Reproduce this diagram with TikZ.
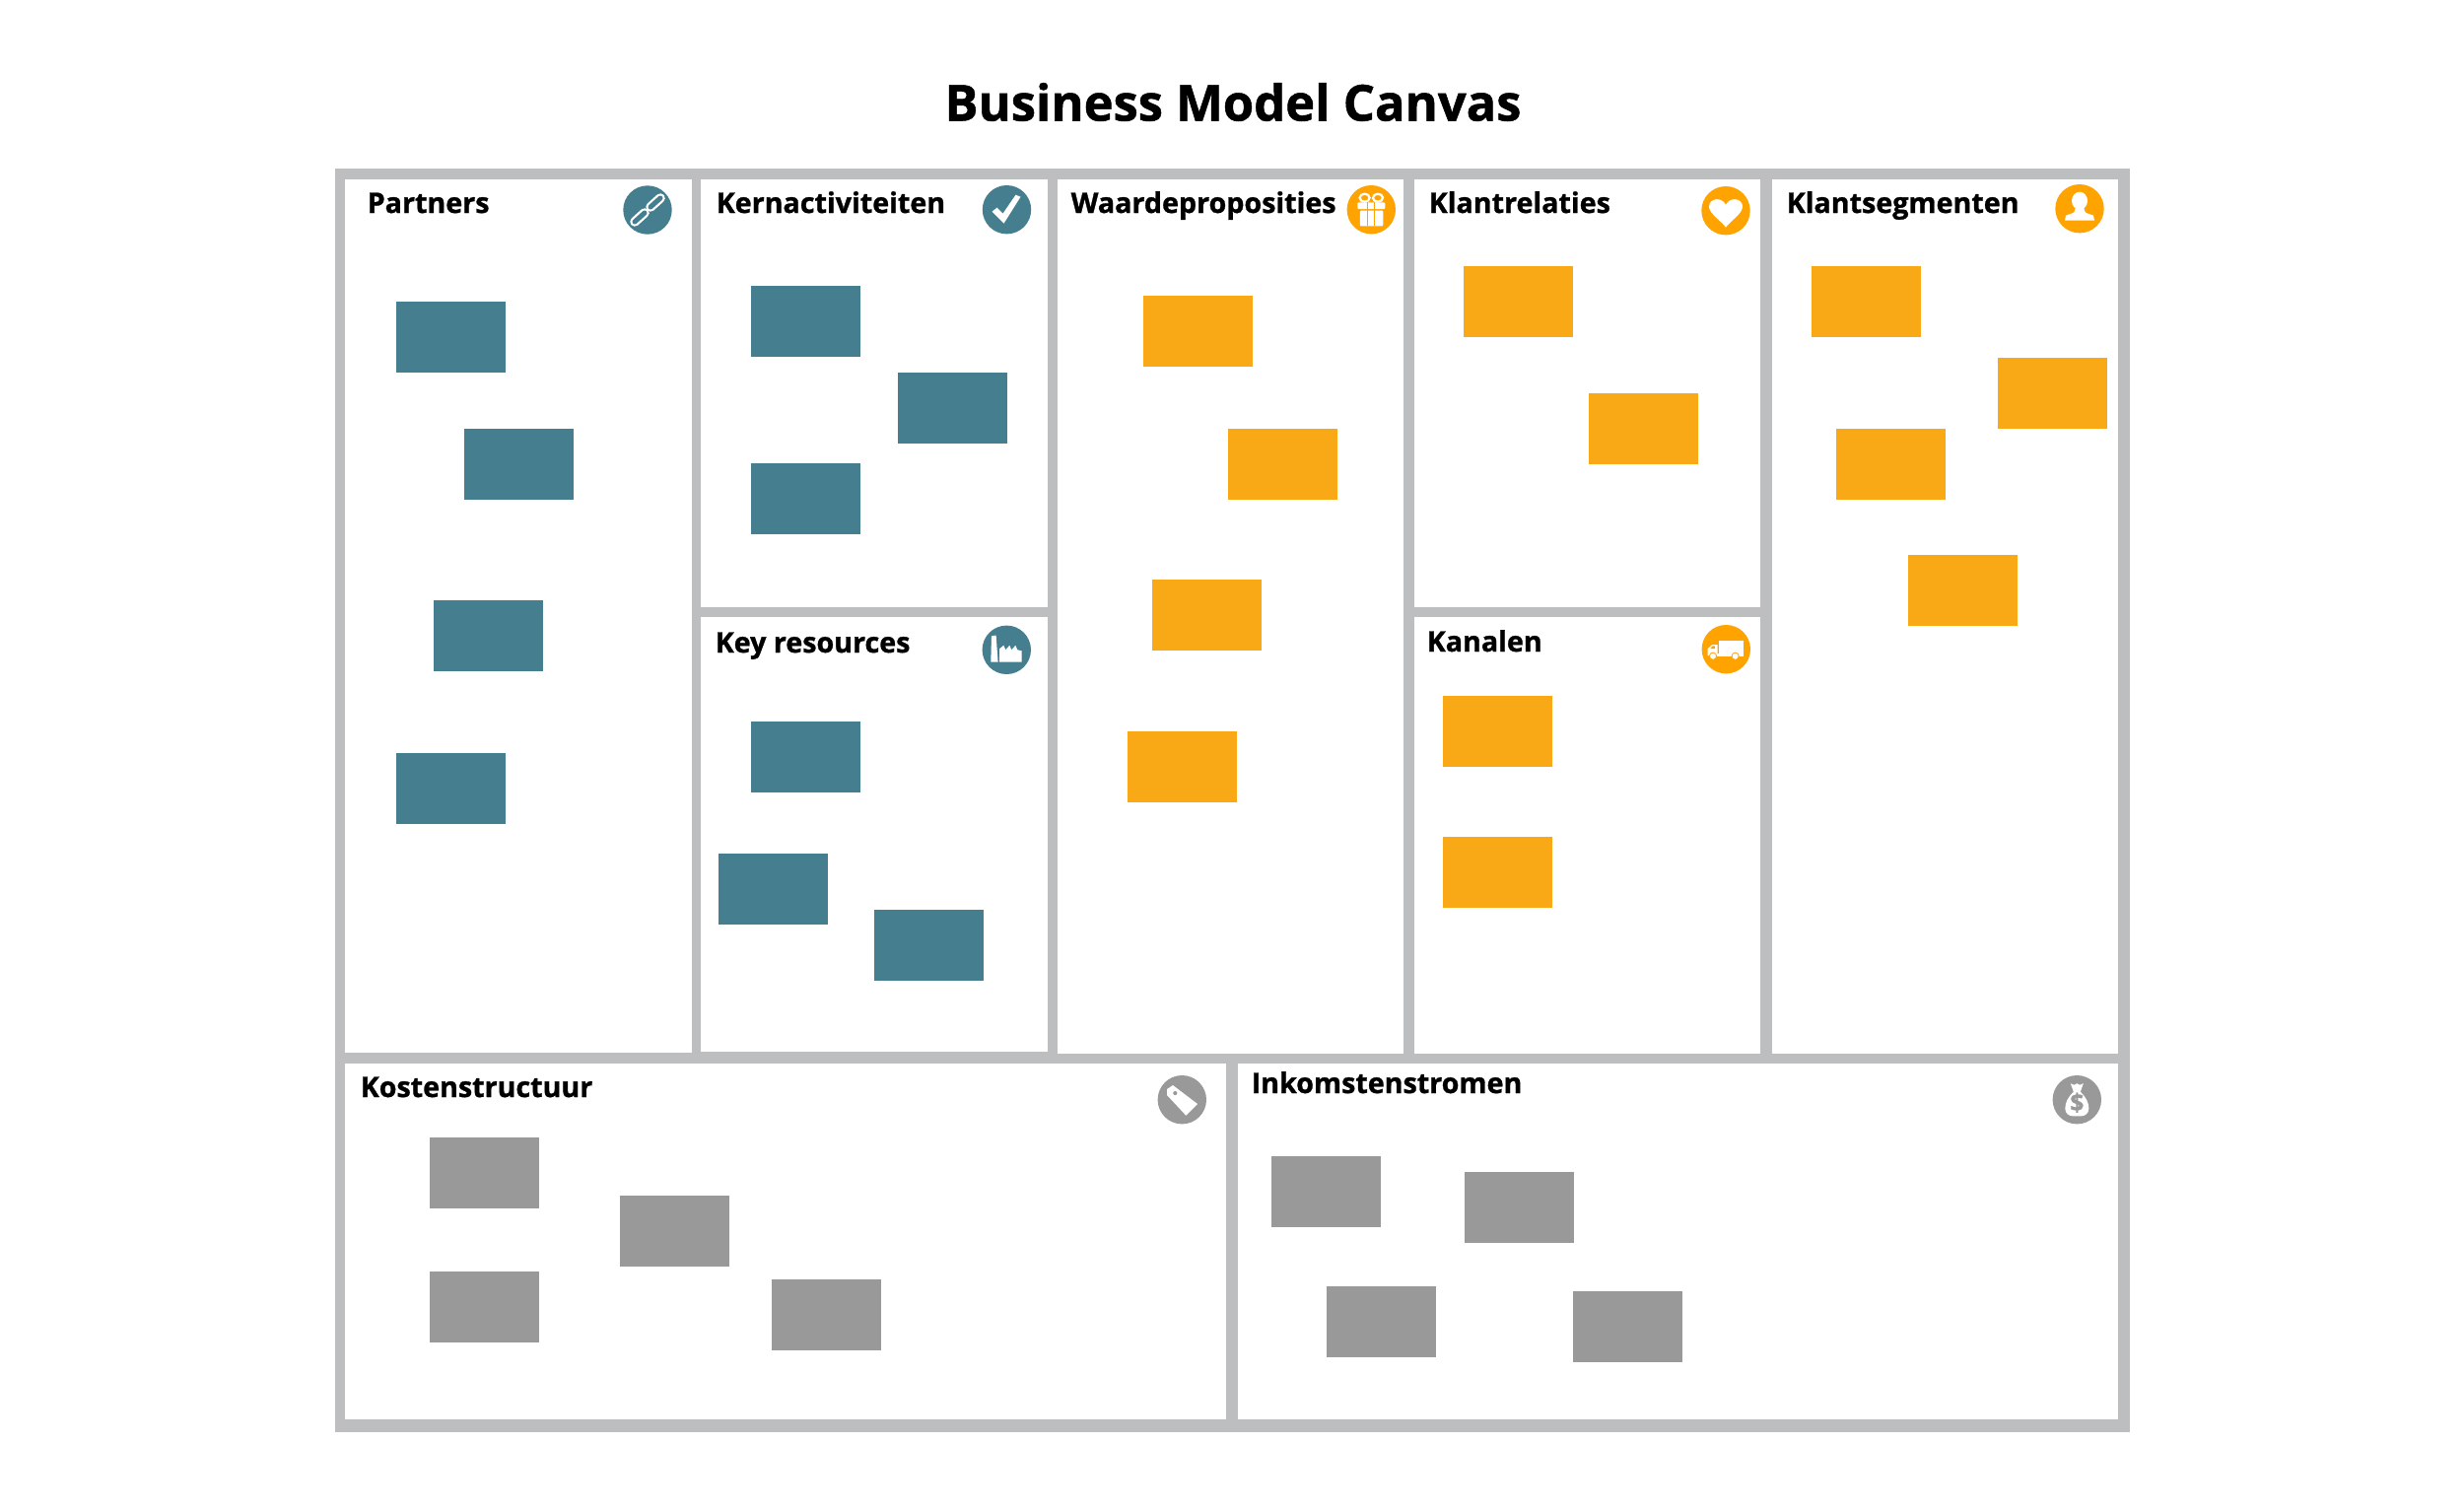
\documentclass[tikz,border=0pt]{standalone}
\usepackage{fontspec}
\setmainfont{Open Sans}[BoldFeatures={FakeBold=1}]
\definecolor{framegray}{HTML}{BCBEC0}
\definecolor{teal}{HTML}{447E8F}
\definecolor{noteorange}{HTML}{FAA916}
\definecolor{iconorange}{HTML}{FFA300}
\definecolor{notegray}{HTML}{999999}
\tikzset{
	cell/.style={fill=white},
	note/.style={anchor=north west, inner sep=0pt, minimum width=1.11cm, minimum height=0.72cm},
	tealnote/.style={note, fill=teal},
	orangenote/.style={note, fill=noteorange},
	graynote/.style={note, fill=notegray},
	heading/.style={anchor=base west, inner sep=0pt, font=\fontsize{8.15}{10}\selectfont\bfseries},
	pics/linkicon/.style={code={
		\fill[teal] (0,0) circle (24.7);
		\draw[white, line width=0.095cm, line cap=round] (-13,12) -- (-3,3);
		\draw[teal, line width=0.05cm, line cap=round] (-13,12) -- (-3,3);
		\draw[white, line width=0.095cm, line cap=round] (3,-3) -- (13,-12);
		\draw[teal, line width=0.05cm, line cap=round] (3,-3) -- (13,-12);
	}},
	pics/checkicon/.style={code={
		\fill[teal] (0,0) circle (24.7);
		\fill[white] (-15,2) -- (-10,-2) -- (-4,4) -- (9,-15) -- (14,-13) -- (-3,14) -- cycle;
	}},
	pics/factoryicon/.style={code={
		\fill[teal] (0,0) circle (24.7);
		\fill[white] (-15.3,-14) -- (-10.7,-14.7) -- (-8.7,12.3) -- (-16,12.3) -- cycle;
		\fill[white] (-7.3,12.3) -- (-7.3,-1) -- (-3,-4.5) -- (-1,0) -- (3,-4.5) -- (5,0) -- (9,-4.5) -- (11,0) -- (15.3,1) -- (15.3,12.3) -- cycle;
	}},
	pics/gifticon/.style={code={
		\fill[iconorange] (0,0) circle (24.7);
		\draw[white, line width=0.022cm] (-6.7,-12) ellipse (5 and 4);
		\draw[white, line width=0.022cm] (6.7,-12) ellipse (5 and 4);
		\fill[white, rounded corners=0.01cm] (-14,-7.3) rectangle (14,-0.7);
		\fill[white, rounded corners=0.01cm] (-11.5,1) rectangle (12,16.7);
		\fill[iconorange] (-4.5,-7.3) rectangle (-3.5,16.7);
		\fill[iconorange] (3,-7.3) rectangle (4,16.7);
	}},
	pics/hearticon/.style={code={
		\fill[iconorange] (0,0) circle (24.7);
		\fill[white] (0,17) .. controls (-4,11) and (-17,3) .. (-17,-4) .. controls (-17,-9) and (-13,-11.5) .. (-9,-11.5) .. controls (-5,-11.5) and (-2,-9.5) .. (0,-6) .. controls (2,-9.5) and (5,-11.5) .. (9,-11.5) .. controls (13,-11.5) and (17,-9) .. (17,-4) .. controls (17,3) and (4,11) .. (0,17) -- cycle;
	}},
	pics/personicon/.style={code={
		\fill[iconorange] (0,0) circle (24.7);
		\fill[white] (0,-8) ellipse (8 and 9);
		\fill[white] (-15,12) -- (-14,7) .. controls (-10,5) and (-5,5) .. (-5,2) -- (-4,-2) -- (4,-2) -- (5,2) .. controls (5,5) and (10,5) .. (14,7) -- (15,12) -- cycle;
	}},
	pics/truckicon/.style={code={
		\fill[iconorange] (0,0) circle (24.7);
		\fill[white] (-7.3,-8.7) rectangle (18,4);
		\fill[white] (-9,4.5) rectangle (18,7);
		\fill[white] (-18.7,6.5) -- (-18.7,-0.5) -- (-14,-4.7) -- (-8.7,-4.7) -- (-8.7,6.5) -- cycle;
		\fill[iconorange] (-16,-0.5) -- (-13.8,-3.3) -- (-11.5,-3.3) -- (-11.5,-0.5) -- cycle;
		\filldraw[white, draw=iconorange, line width=0.008cm] (-13.3,7) circle (3.6);
		\filldraw[white, draw=iconorange, line width=0.008cm] (9.3,7) circle (3.6);
	}},
	pics/tagicon/.style={code={
		\fill[notegray] (0,0) circle (24.7);
		\fill[white] (-15.3,-10.7) -- (-9.3,-14.7) -- (15.7,4.3) -- (4,16) -- (-15.3,-4.7) -- cycle;
		\fill[notegray] (-7,-6.7) circle (2.1);
	}},
	pics/moneyicon/.style={code={
		\fill[notegray] (0,0) circle (24.7);
		\fill[white] (-6.5,-16.5) -- (-3,-15) -- (0,-16.5) -- (3,-15) -- (6.5,-16.5) -- (3.5,-8) .. controls (9,-3) and (12,3) .. (12,9) .. controls (12,14) and (8,16.7) .. (4,16.7) -- (-4,16.7) .. controls (-8,16.7) and (-12,14) .. (-12,9) .. controls (-12,3) and (-9,-3) .. (-3.5,-8) -- cycle;
		\node[inner sep=0pt, text=notegray, font=\fontsize{7}{9}\selectfont\bfseries] at (0,3) {\$};
	}},
}
\begin{document}
\begin{tikzpicture}[x=0.01cm, y=-0.01cm]
	\useasboundingbox (0,0) rectangle (2500,1533);
	\node[anchor=base, inner sep=0pt, font=\fontsize{14.4}{18}\selectfont\bfseries] (title) at (1251,122.5) {Business Model Canvas};
	% frame and cells
	\fill[framegray] (340,171) rectangle (2161,1453);
	\fill[cell] (350,182) rectangle (702,1068);
	\fill[cell] (711,182) rectangle (1063,616);
	\fill[cell] (711,626) rectangle (1063,1067);
	\fill[cell] (1073,182) rectangle (1424,1069);
	\fill[cell] (1435,182) rectangle (1786,616);
	\fill[cell] (1435,626) rectangle (1786,1069);
	\fill[cell] (1798,182) rectangle (2149,1069);
	\fill[cell] (350,1079) rectangle (1244,1440);
	\fill[cell] (1256,1079) rectangle (2149,1440);
	% headings
	\node[heading] (partners) at (372,216) {Partners};
	\node[heading] (kern) at (726,216) {Kernactiviteiten};
	\node[heading] (waarde) at (1086,216) {Waardeproposities};
	\node[heading] (relaties) at (1449,216) {Klantrelaties};
	\node[heading] (segmenten) at (1812,216) {Klantsegmenten};
	\node[heading] (resources) at (725,662) {Key resources};
	\node[heading] (kanalen) at (1447,661) {Kanalen};
	\node[heading] (kosten) at (365,1113) {Kostenstructuur};
	\node[heading] (inkomsten) at (1269,1109) {Inkomstenstromen};
	% notes
	\foreach \x/\y [count=\i] in {401/305, 470/434, 439.5/608, 401/763}
		\node[tealnote] (partner\i) at (\x,\y) {};
	\foreach \x/\y [count=\i] in {761/289, 910/377, 761/469.5}
		\node[tealnote] (activity\i) at (\x,\y) {};
	\foreach \x/\y [count=\i] in {761/731, 728/865, 886/922.5}
		\node[tealnote] (resource\i) at (\x,\y) {};
	\foreach \x/\y [count=\i] in {1159/299.5, 1245/434, 1168/587.5, 1143.6/741}
		\node[orangenote] (value\i) at (\x,\y) {};
	\foreach \x/\y [count=\i] in {1484/269.5, 1611/398}
		\node[orangenote] (relation\i) at (\x,\y) {};
	\foreach \x/\y [count=\i] in {1463/705, 1463/848.5}
		\node[orangenote] (channel\i) at (\x,\y) {};
	\foreach \x/\y [count=\i] in {1837/269.5, 2026/362, 1862/434, 1935/562}
		\node[orangenote] (segment\i) at (\x,\y) {};
	\foreach \x/\y [count=\i] in {435.4/1153, 628.4/1212, 435.4/1289, 782/1297}
		\node[graynote] (cost\i) at (\x,\y) {};
	\foreach \x/\y [count=\i] in {1289/1172, 1485/1188, 1345/1304, 1595/1309}
		\node[graynote] (revenue\i) at (\x,\y) {};
	% icons
	\pic at (657,213) {linkicon};
	\pic at (1021.5,212.7) {checkicon};
	\pic at (1021.3,659.3) {factoryicon};
	\pic at (1391.3,212.7) {gifticon};
	\pic at (1751,213.7) {hearticon};
	\pic at (2110,211.7) {personicon};
	\pic at (1751.3,658.7) {truckicon};
	\pic at (1199.3,1115.7) {tagicon};
	\pic at (2107.3,1115.7) {moneyicon};
\end{tikzpicture}
\end{document}
